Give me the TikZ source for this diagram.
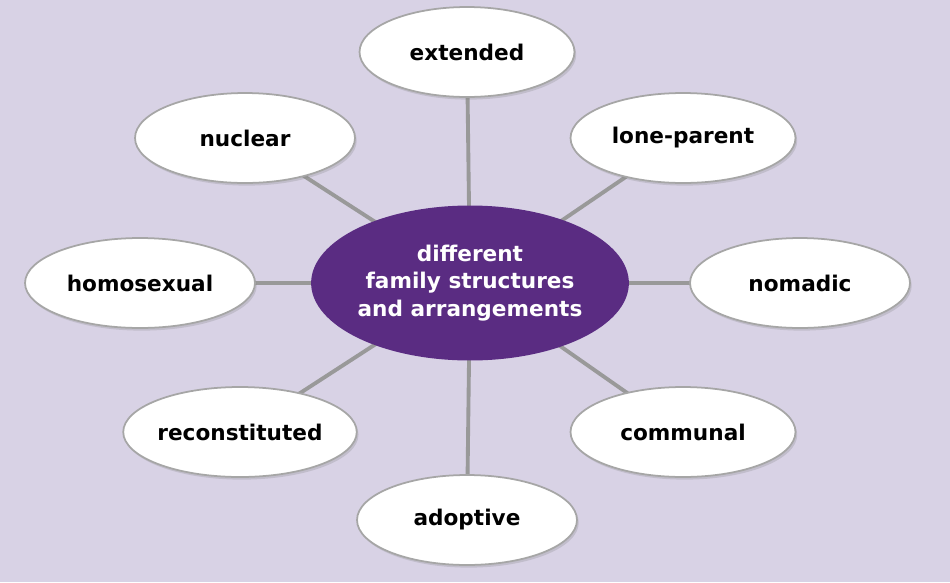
\documentclass[tikz,border=0pt]{standalone}
\usepackage{fontspec}
\setmainfont{DejaVu Sans}
\usetikzlibrary{shadows,shapes.geometric}
\begin{document}
\begin{tikzpicture}[x=0.02cm,y=-0.02cm,
  leaf/.style={ellipse,draw=black!35,line width=1pt,fill=white,inner sep=0pt,minimum width=4.4cm,minimum height=1.8cm,font=\bfseries\fontsize{12.3}{15}\selectfont,drop shadow={opacity=0.25,shadow xshift=1pt,shadow yshift=-1.5pt}},
  hub/.style={ellipse,fill=myPurple,minimum width=5.95cm,minimum height=3.1cm,inner sep=0pt,text=white,align=center,font=\bfseries\fontsize{12.3}{15.5}\selectfont},
  link/.style={draw=black!40,line width=2.2pt}]
\definecolor{myPurple}{HTML}{5A2C82}
\definecolor{bgLav}{HTML}{D8D2E5}
\fill[bgLav] (0,0) rectangle (950,582);
\coordinate (c) at (470,283);
\coordinate (p1) at (467,52);
\coordinate (p2) at (683,138);
\coordinate (p3) at (245,138);
\coordinate (p4) at (140,283);
\coordinate (p5) at (800,283);
\coordinate (p6) at (240,432);
\coordinate (p7) at (683,432);
\coordinate (p8) at (467,520);
\foreach \p in {p1,p2,p3,p4,p5,p6,p7,p8} \draw[link] (c) -- (\p);
\node[hub] (hubn) at (c) {different\\family structures\\and arrangements};
\node[leaf,minimum width=4.3cm] (ext) at (p1) {extended};
\node[leaf,minimum width=4.5cm] (lone) at (p2) {lone-parent};
\node[leaf,minimum width=4.4cm] (nuc) at (p3) {nuclear};
\node[leaf,minimum width=4.6cm] (homo) at (p4) {homosexual};
\node[leaf,minimum width=4.4cm] (nom) at (p5) {nomadic};
\node[leaf,minimum width=4.5cm] (rec) at (p6) {reconstituted};
\node[leaf,minimum width=4.5cm] (com) at (p7) {communal};
\node[leaf,minimum width=4.4cm] (ado) at (p8) {adoptive};
\end{tikzpicture}
\end{document}
